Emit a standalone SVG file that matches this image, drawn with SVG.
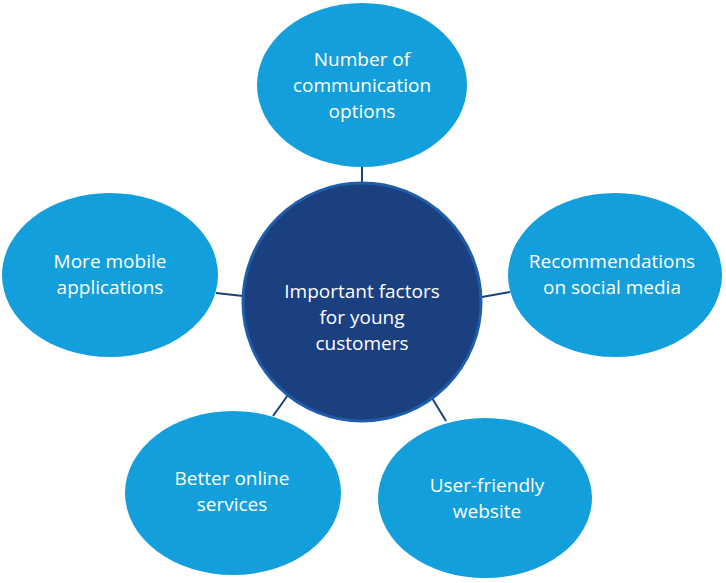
<svg xmlns="http://www.w3.org/2000/svg" width="726" height="583" viewBox="0 0 726 583">
<style>
.s{fill:#139fdb}
.c{fill:#1b4080;stroke:#1f5dab;stroke-width:3}
text{fill:#fff;font-family:"Open Sans","Noto Sans",sans-serif;font-size:19px;text-anchor:middle}
line{stroke:#1b4080;stroke-width:2}
</style>
<rect width="726" height="583" fill="#fff"/>
<g id="connectors">
<line x1="362" y1="166" x2="362" y2="192"/>
<line x1="482" y1="297" x2="510" y2="292"/>
<line x1="432" y1="398" x2="446" y2="421"/>
<line x1="288" y1="395" x2="273" y2="416"/>
<line x1="216" y1="293" x2="243" y2="296"/>
</g>
<g id="top"><ellipse class="s" cx="362" cy="85" rx="105" ry="82"/><text x="362" y="66">Number of</text><text x="362" y="92">communication</text><text x="362" y="118">options</text></g>
<g id="right"><ellipse class="s" cx="615" cy="275" rx="107" ry="82"/><text x="612" y="268">Recommendations</text><text x="612" y="294">on social media</text></g>
<g id="bottomright"><ellipse class="s" cx="485" cy="498" rx="107" ry="80"/><text x="487" y="492">User-friendly</text><text x="487" y="518">website</text></g>
<g id="bottomleft"><ellipse class="s" cx="233" cy="493" rx="108" ry="82"/><text x="232" y="485">Better online</text><text x="232" y="511">services</text></g>
<g id="left"><ellipse class="s" cx="110" cy="275" rx="108" ry="82"/><text x="110" y="268">More mobile</text><text x="110" y="294">applications</text></g>
<g id="center"><circle class="c" cx="362" cy="302" r="119"/><text x="362" y="298">Important factors</text><text x="362" y="324">for young</text><text x="362" y="350">customers</text></g>
</svg>
